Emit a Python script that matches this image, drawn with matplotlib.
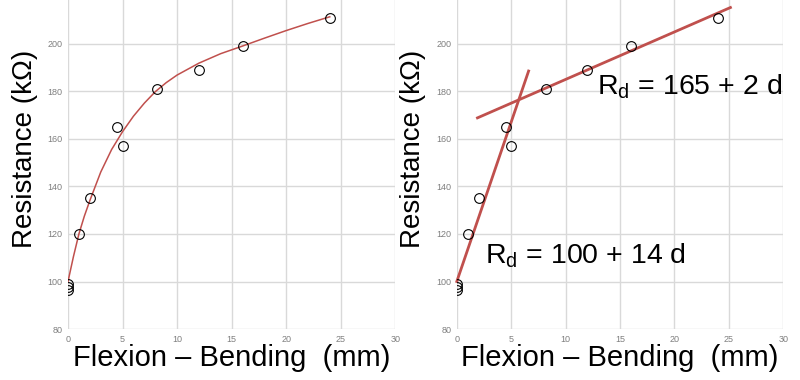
import numpy as np
import matplotlib.pyplot as plt

plt.rcParams['font.family'] = ['Liberation Sans', 'DejaVu Sans']
plt.rcParams['mathtext.fontset'] = 'custom'
plt.rcParams['mathtext.rm'] = 'Liberation Sans'

# Measured points (bending in mm, resistance in kOhm)
bending = [0, 0, 0, 1, 2, 4.5, 5, 8.2, 12, 16, 24]
resistance = [99, 97.5, 96.3, 120, 135, 165, 157, 181, 189, 199, 211]

# Smooth trend curve
curve_d = [0, 0.5, 1, 1.5, 2, 3, 4, 5, 6, 7, 8, 9, 10, 12, 14, 16, 18, 20, 22, 24]
curve_r = [100, 110.5, 120, 127.5, 134, 146, 155.5, 163, 169.5, 175, 179.8,
           183.6, 186.8, 191.8, 195.8, 199, 202.3, 205.5, 208.5, 211.3]

# Two straight fits on the right panel (end points)
fit1_d = [0, 6.6]
fit1_r = [100, 188.5]
fit2_d = [1.9, 25.15]
fit2_r = [168.8, 215.2]

red = '#C0504D'
grid_col = '#D9D9D9'

fig = plt.figure(figsize=(8, 3.8), dpi=100)
ax1 = fig.add_axes([0.085, 0.134, 0.409, 0.87])
ax2 = fig.add_axes([0.571, 0.134, 0.408, 0.87])

for ax in (ax1, ax2):
    ax.set_xlim(0, 30)
    ax.set_ylim(80, 219)
    ax.set_xticks([0, 5, 10, 15, 20, 25, 30])
    ax.set_yticks([80, 100, 120, 140, 160, 180, 200])
    ax.grid(True, color=grid_col, linewidth=1)
    ax.set_axisbelow(True)
    for s in ax.spines.values():
        s.set_visible(False)
    ax.tick_params(length=0, labelsize=6.5, colors='#7F7F7F', pad=4)
    ax.set_xlabel('Flexion \u2013 Bending  (mm)', fontsize=21, labelpad=0)
    ax.set_ylabel('Resistance (k\u03a9)', fontsize=20)
    ax.yaxis.set_label_coords(-0.093, 0.545)

ax1.plot(curve_d, curve_r, color=red, linewidth=1.1)
ax1.plot(bending, resistance, 'o', markersize=7, markerfacecolor='none',
         markeredgecolor='black', markeredgewidth=0.8)

ax2.plot(fit1_d, fit1_r, color=red, linewidth=2, clip_on=False)
ax2.plot(fit2_d, fit2_r, color=red, linewidth=2, clip_on=False)
ax2.plot(bending, resistance, 'o', markersize=7, markerfacecolor='none',
         markeredgecolor='black', markeredgewidth=0.8)

ax2.text(12.9, 178.9, r'R$_{\mathrm{d}}$ = 165 + 2 d', fontsize=20.5, va='baseline')
ax2.text(2.58, 107.8, r'R$_{\mathrm{d}}$ = 100 + 14 d', fontsize=20.5, va='baseline')

fig.savefig('out.png', dpi=100)
